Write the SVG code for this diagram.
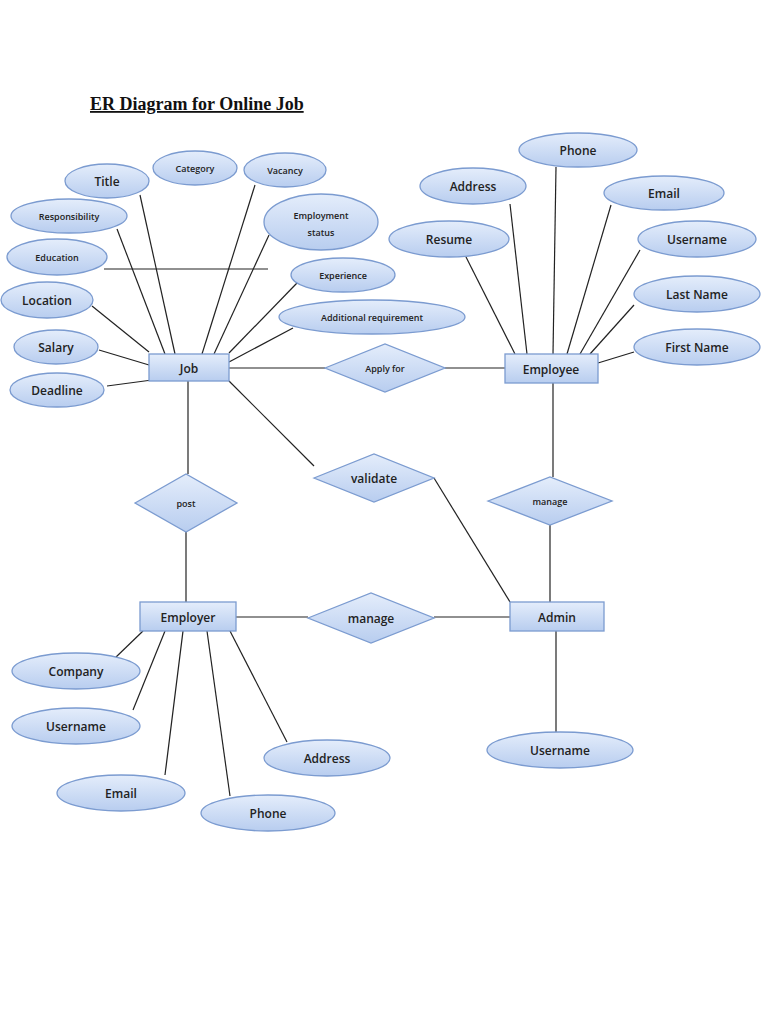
<svg xmlns="http://www.w3.org/2000/svg" width="768" height="1024" viewBox="0 0 768 1024">
<defs>
<linearGradient id="g" x1="0" y1="0" x2="0" y2="1"><stop offset="0" stop-color="#e4edfb"/><stop offset="1" stop-color="#b8cdef"/></linearGradient>
<style>
.s{fill:url(#g);stroke:#7b9bd0;stroke-width:1.3}
.t{font-family:"Open Sans","Liberation Sans",sans-serif;font-size:12px;font-weight:600;fill:#222;text-anchor:middle;dominant-baseline:central}
.sm{font-size:9px}
.l{stroke:#222;stroke-width:1.2;fill:none}
</style>
</defs>
<rect width="768" height="1024" fill="#fff"/>
<text x="90" y="110" font-family="Liberation Serif,serif" font-size="18" font-weight="bold" fill="#111" text-decoration="underline">ER Diagram for Online Job</text>
<g id="connectors" class="l">
<line x1="140" y1="195" x2="175" y2="354"/><line x1="117" y1="229" x2="165" y2="354"/>
<line x1="92" y1="306" x2="149" y2="352"/><line x1="99" y1="350" x2="149" y2="365"/>
<line x1="107" y1="386" x2="152" y2="380"/><line x1="255" y1="185" x2="202" y2="354"/>
<line x1="269" y1="235" x2="214" y2="354"/><line x1="297" y1="283" x2="229" y2="353"/>
<line x1="293" y1="328" x2="229" y2="362"/><line x1="104" y1="269" x2="268" y2="269"/>
<line x1="229" y1="368" x2="325" y2="368"/><line x1="445" y1="368" x2="505" y2="368"/>
<line x1="188" y1="381" x2="188" y2="474"/><line x1="186" y1="532" x2="186" y2="602"/>
<line x1="229" y1="381" x2="314" y2="466"/><line x1="434" y1="478" x2="510" y2="602"/>
<line x1="553" y1="383" x2="553" y2="477"/><line x1="550" y1="525" x2="550" y2="602"/>
<line x1="236" y1="617" x2="308" y2="617"/><line x1="434" y1="617" x2="510" y2="617"/>
<line x1="556" y1="631" x2="556" y2="732"/>
<line x1="556" y1="167" x2="553" y2="354"/><line x1="510" y1="204" x2="527" y2="354"/>
<line x1="466" y1="257" x2="515" y2="354"/><line x1="611" y1="205" x2="567" y2="354"/>
<line x1="640" y1="250" x2="580" y2="354"/><line x1="634" y1="305" x2="590" y2="354"/>
<line x1="634" y1="352" x2="598" y2="363"/>
<line x1="115" y1="658" x2="143" y2="631"/><line x1="133" y1="710" x2="165" y2="631"/>
<line x1="165" y1="775" x2="183" y2="631"/><line x1="230" y1="796" x2="207" y2="631"/>
<line x1="287" y1="742" x2="230" y2="631"/>
</g>
<g id="title"><ellipse class="s" cx="107" cy="181" rx="42" ry="17"/><text class="t" x="107" y="181">Title</text></g>
<g id="category"><ellipse class="s" cx="195" cy="168" rx="42" ry="17"/><text class="t sm" x="195" y="168">Category</text></g>
<g id="vacancy"><ellipse class="s" cx="285" cy="170" rx="41" ry="17"/><text class="t sm" x="285" y="170">Vacancy</text></g>
<g id="responsibility"><ellipse class="s" cx="69" cy="216" rx="58" ry="17"/><text class="t sm" x="69" y="216">Responsibility</text></g>
<g id="empstatus"><ellipse class="s" cx="321" cy="222" rx="57" ry="28"/><text class="t sm" x="321" y="215">Employment</text><text class="t sm" x="321" y="232">status</text></g>
<g id="education"><ellipse class="s" cx="57" cy="257" rx="50" ry="18"/><text class="t sm" x="57" y="257">Education</text></g>
<g id="experience"><ellipse class="s" cx="343" cy="275" rx="52" ry="17"/><text class="t sm" x="343" y="275">Experience</text></g>
<g id="location"><ellipse class="s" cx="47" cy="300" rx="46" ry="18"/><text class="t" x="47" y="300" font-size="11">Location</text></g>
<g id="additional"><ellipse class="s" cx="372" cy="317" rx="93" ry="17"/><text class="t sm" x="372" y="317">Additional requirement</text></g>
<g id="salary"><ellipse class="s" cx="56" cy="347" rx="42" ry="17"/><text class="t" x="56" y="347">Salary</text></g>
<g id="deadline"><ellipse class="s" cx="57" cy="390" rx="47" ry="17"/><text class="t" x="57" y="390" font-size="11">Deadline</text></g>
<g id="job"><rect class="s" x="149" y="354" width="80" height="27"/><text class="t" x="189" y="368">Job</text></g>
<g id="applyfor"><polygon class="s" points="325,368 385,344 445,368 385,392"/><text class="t sm" x="385" y="368">Apply for</text></g>
<g id="employee"><rect class="s" x="505" y="354" width="93" height="29"/><text class="t" x="551" y="369">Employee</text></g>
<g id="phone1"><ellipse class="s" cx="578" cy="150" rx="59" ry="17"/><text class="t" x="578" y="150">Phone</text></g>
<g id="address1"><ellipse class="s" cx="473" cy="186" rx="53" ry="18"/><text class="t" x="473" y="186">Address</text></g>
<g id="email1"><ellipse class="s" cx="664" cy="193" rx="60" ry="17"/><text class="t" x="664" y="193">Email</text></g>
<g id="resume"><ellipse class="s" cx="449" cy="239" rx="60" ry="18"/><text class="t" x="449" y="239">Resume</text></g>
<g id="username1"><ellipse class="s" cx="697" cy="239" rx="59" ry="18"/><text class="t" x="697" y="239">Username</text></g>
<g id="lastname"><ellipse class="s" cx="697" cy="294" rx="63" ry="18"/><text class="t" x="697" y="294">Last Name</text></g>
<g id="firstname"><ellipse class="s" cx="697" cy="347" rx="63" ry="18"/><text class="t" x="697" y="347">First Name</text></g>
<g id="validate"><polygon class="s" points="314,478 374,454 434,478 374,502"/><text class="t" x="374" y="478" font-size="10">validate</text></g>
<g id="manage1"><polygon class="s" points="488,501 550,477 612,501 550,525"/><text class="t sm" x="550" y="501">manage</text></g>
<g id="post"><polygon class="s" points="135,503 186,474 237,503 186,532"/><text class="t sm" x="186" y="503">post</text></g>
<g id="employer"><rect class="s" x="140" y="602" width="96" height="29"/><text class="t" x="188" y="617">Employer</text></g>
<g id="manage2"><polygon class="s" points="308,618 371,593 434,618 371,643"/><text class="t" x="371" y="618" font-size="10">manage</text></g>
<g id="admin"><rect class="s" x="510" y="602" width="94" height="29"/><text class="t" x="557" y="617">Admin</text></g>
<g id="company"><ellipse class="s" cx="76" cy="671" rx="64" ry="18"/><text class="t" x="76" y="671">Company</text></g>
<g id="username2"><ellipse class="s" cx="76" cy="726" rx="64" ry="18"/><text class="t" x="76" y="726">Username</text></g>
<g id="address2"><ellipse class="s" cx="327" cy="758" rx="63" ry="18"/><text class="t" x="327" y="758">Address</text></g>
<g id="email2"><ellipse class="s" cx="121" cy="793" rx="64" ry="18"/><text class="t" x="121" y="793">Email</text></g>
<g id="phone2"><ellipse class="s" cx="268" cy="813" rx="67" ry="18"/><text class="t" x="268" y="813">Phone</text></g>
<g id="username3"><ellipse class="s" cx="560" cy="750" rx="73" ry="18"/><text class="t" x="560" y="750">Username</text></g>
</svg>
